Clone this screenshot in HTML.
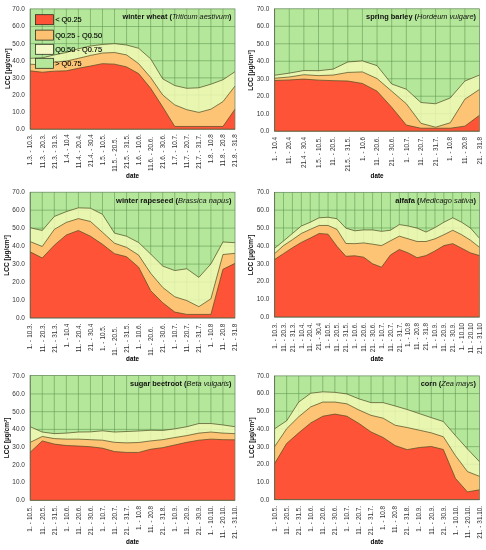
<!DOCTYPE html>
<html><head><meta charset="utf-8"><title>LCC quantiles by crop</title>
<style>html,body{margin:0;padding:0;background:#fff}body{width:486px;height:550px;overflow:hidden}svg{display:block}</style>
</head><body>
<svg width="486" height="550" viewBox="0 0 486 550" font-family='"Liberation Sans", sans-serif'>
<rect width="486" height="550" fill="#fff"/>
<g>
<rect x="30.2" y="8.9" width="204.8" height="120.3" fill="#b5e79a"/>
<path d="M42.25 8.9V129.2M54.29 8.9V129.2M66.34 8.9V129.2M78.39 8.9V129.2M90.44 8.9V129.2M102.48 8.9V129.2M114.53 8.9V129.2M126.58 8.9V129.2M138.62 8.9V129.2M150.67 8.9V129.2M162.72 8.9V129.2M174.76 8.9V129.2M186.81 8.9V129.2M198.86 8.9V129.2M210.91 8.9V129.2M222.95 8.9V129.2M30.2 112.09H235M30.2 94.97H235M30.2 77.86H235M30.2 60.74H235M30.2 43.63H235M30.2 26.51H235" stroke="#5c954e" stroke-width="0.55" fill="none"/>
<polygon points="30.2,129.2 30.2,58.35 42.25,57.83 54.29,54.92 66.34,52.53 78.39,48.76 90.44,46.02 102.48,44.48 114.53,43.63 126.58,45 138.62,48.25 150.67,58.86 162.72,78.88 174.76,85.56 186.81,88.3 198.86,87.78 210.91,84.19 222.95,79.74 235,71.7 235,129.2" fill="#f3f9b5" fill-opacity="0.82"/>
<polyline points="30.2,58.35 42.25,57.83 54.29,54.92 66.34,52.53 78.39,48.76 90.44,46.02 102.48,44.48 114.53,43.63 126.58,45 138.62,48.25 150.67,58.86 162.72,78.88 174.76,85.56 186.81,88.3 198.86,87.78 210.91,84.19 222.95,79.74 235,71.7" fill="none" stroke="#4c4a22" stroke-width="0.7" stroke-linejoin="round"/>
<polygon points="30.2,129.2 30.2,64.17 42.25,65.02 54.29,62.11 66.34,61.09 78.39,58.35 90.44,55.44 102.48,53.04 114.53,52.53 126.58,54.92 138.62,63.65 150.67,77.51 162.72,94.97 174.76,104.9 186.81,109.69 198.86,112.43 210.91,109.18 222.95,101.65 235,86.07 235,129.2" fill="#fdc271" fill-opacity="0.96"/>
<polyline points="30.2,64.17 42.25,65.02 54.29,62.11 66.34,61.09 78.39,58.35 90.44,55.44 102.48,53.04 114.53,52.53 126.58,54.92 138.62,63.65 150.67,77.51 162.72,94.97 174.76,104.9 186.81,109.69 198.86,112.43 210.91,109.18 222.95,101.65 235,86.07" fill="none" stroke="#4c4a22" stroke-width="0.7" stroke-linejoin="round"/>
<polygon points="30.2,129.2 30.2,70.84 42.25,72.21 54.29,71.18 66.34,70.84 78.39,68.27 90.44,66.05 102.48,63.65 114.53,64.17 126.58,66.9 138.62,73.58 150.67,88.3 162.72,106.95 174.76,126.46 186.81,126.46 198.86,126.46 210.91,126.46 222.95,126.46 235,109.18 235,129.2" fill="#ff5337" fill-opacity="1"/>
<polyline points="30.2,70.84 42.25,72.21 54.29,71.18 66.34,70.84 78.39,68.27 90.44,66.05 102.48,63.65 114.53,64.17 126.58,66.9 138.62,73.58 150.67,88.3 162.72,106.95 174.76,126.46 186.81,126.46 198.86,126.46 210.91,126.46 222.95,126.46 235,109.18" fill="none" stroke="#4c4a22" stroke-width="0.7" stroke-linejoin="round"/>
<rect x="30.2" y="8.9" width="204.8" height="120.3" fill="none" stroke="#5f8458" stroke-width="0.7"/>
<path d="M30.2 8.9V129.2H235" stroke="#3a3a30" stroke-width="0.45" fill="none"/>
<text x="24.9" y="131.1" font-size="6.45" text-anchor="end" fill="#333">0.0</text>
<text x="24.9" y="113.99" font-size="6.45" text-anchor="end" fill="#333">10.0</text>
<text x="24.9" y="96.87" font-size="6.45" text-anchor="end" fill="#333">20.0</text>
<text x="24.9" y="79.76" font-size="6.45" text-anchor="end" fill="#333">30.0</text>
<text x="24.9" y="62.64" font-size="6.45" text-anchor="end" fill="#333">40.0</text>
<text x="24.9" y="45.53" font-size="6.45" text-anchor="end" fill="#333">50.0</text>
<text x="24.9" y="28.41" font-size="6.45" text-anchor="end" fill="#333">60.0</text>
<text x="24.9" y="11.3" font-size="6.45" text-anchor="end" fill="#333">70.0</text>
<text transform="translate(9.5 68.6) rotate(-90)" font-size="6.5" font-weight="bold" text-anchor="middle" fill="#111">LCC [µg/cm<tspan font-size="4" dy="-2">2</tspan><tspan dy="2">]</tspan></text>
<text transform="translate(32.45 134.2) rotate(-90)" font-size="6.35" word-spacing="0.3" text-anchor="end" fill="#333">1.3. - 10.3.</text>
<text transform="translate(44.5 134.2) rotate(-90)" font-size="6.35" word-spacing="0.3" text-anchor="end" fill="#333">11.3. - 20.3.</text>
<text transform="translate(56.54 134.2) rotate(-90)" font-size="6.35" word-spacing="0.3" text-anchor="end" fill="#333">21.3. - 31.3.</text>
<text transform="translate(68.59 134.2) rotate(-90)" font-size="6.35" word-spacing="0.3" text-anchor="end" fill="#333">1.4. - 10.4</text>
<text transform="translate(80.64 134.2) rotate(-90)" font-size="6.35" word-spacing="0.3" text-anchor="end" fill="#333">11.4. - 20.4.</text>
<text transform="translate(92.69 134.2) rotate(-90)" font-size="6.35" word-spacing="0.3" text-anchor="end" fill="#333">21.4. - 30.4</text>
<text transform="translate(104.73 134.2) rotate(-90)" font-size="6.35" word-spacing="0.3" text-anchor="end" fill="#333">1.5. - 10.5.</text>
<text transform="translate(116.78 137.7) rotate(-90)" font-size="6.35" word-spacing="0.3" text-anchor="end" fill="#333">11.5. - 20.5.</text>
<text transform="translate(128.83 134.2) rotate(-90)" font-size="6.35" word-spacing="0.3" text-anchor="end" fill="#333">21.5. - 31.5.</text>
<text transform="translate(140.87 134.2) rotate(-90)" font-size="6.35" word-spacing="0.3" text-anchor="end" fill="#333">1.6. - 10.6.</text>
<text transform="translate(152.92 136.9) rotate(-90)" font-size="6.35" word-spacing="0.3" text-anchor="end" fill="#333">11.6. - 20.6.</text>
<text transform="translate(164.97 134.2) rotate(-90)" font-size="6.35" word-spacing="0.3" text-anchor="end" fill="#333">21.6. - 30.6.</text>
<text transform="translate(177.01 134.2) rotate(-90)" font-size="6.35" word-spacing="0.3" text-anchor="end" fill="#333">1.7. - 10.7.</text>
<text transform="translate(189.06 134.2) rotate(-90)" font-size="6.35" word-spacing="0.3" text-anchor="end" fill="#333">11.7. - 20.7.</text>
<text transform="translate(201.11 134.2) rotate(-90)" font-size="6.35" word-spacing="0.3" text-anchor="end" fill="#333">21.7. - 31.7.</text>
<text transform="translate(213.16 134.2) rotate(-90)" font-size="6.35" word-spacing="0.3" text-anchor="end" fill="#333">1.8. - 10.8</text>
<text transform="translate(225.2 134.2) rotate(-90)" font-size="6.35" word-spacing="0.3" text-anchor="end" fill="#333">11.8. - 20.8</text>
<text transform="translate(237.25 134.2) rotate(-90)" font-size="6.35" word-spacing="0.3" text-anchor="end" fill="#333">21.8. - 31.8</text>
<text x="132.6" y="177.5" font-size="6.3" font-weight="bold" text-anchor="middle" fill="#000">date</text>
<text x="231.5" y="19" font-size="7.36" text-anchor="end" fill="#111"><tspan font-weight="bold" font-size="7.41">winter wheat (</tspan><tspan font-style="italic">Triticum aestivum</tspan><tspan font-weight="bold">)</tspan></text>
<rect x="35.4" y="14.7" width="18" height="10" fill="#ff5337" stroke="#26261a" stroke-width="0.75"/>
<text x="55.2" y="22.35" font-size="7.4" fill="#000" stroke="#000" stroke-width="0.12">&lt; Q0.25</text>
<rect x="35.4" y="30.1" width="18" height="10" fill="#fdc271" stroke="#26261a" stroke-width="0.75"/>
<text x="55.2" y="37.75" font-size="7.4" fill="#000" stroke="#000" stroke-width="0.12">Q0.25 - Q0.50</text>
<rect x="35.4" y="44.3" width="18" height="10" fill="#f4f7c6" stroke="#26261a" stroke-width="0.75"/>
<text x="55.2" y="51.949999999999996" font-size="7.4" fill="#000" stroke="#000" stroke-width="0.12">Q0.50 - Q0.75</text>
<rect x="35.4" y="58.3" width="18" height="10" fill="#b5e79a" stroke="#26261a" stroke-width="0.75"/>
<text x="55.2" y="65.95" font-size="7.4" fill="#000" stroke="#000" stroke-width="0.12">&gt; Q0.75</text>
</g>
<g>
<rect x="274.6" y="8.8" width="204.9" height="122.4" fill="#b5e79a"/>
<path d="M289.24 8.8V131.2M303.87 8.8V131.2M318.51 8.8V131.2M333.14 8.8V131.2M347.78 8.8V131.2M362.41 8.8V131.2M377.05 8.8V131.2M391.69 8.8V131.2M406.32 8.8V131.2M420.96 8.8V131.2M435.59 8.8V131.2M450.23 8.8V131.2M464.86 8.8V131.2M274.6 113.71H479.5M274.6 96.23H479.5M274.6 78.74H479.5M274.6 61.26H479.5M274.6 43.77H479.5M274.6 26.29H479.5" stroke="#5c954e" stroke-width="0.55" fill="none"/>
<polygon points="274.6,131.2 274.6,75.25 289.24,73.15 303.87,70.52 318.51,70.7 333.14,69.13 347.78,61.96 362.41,60.91 377.05,65.63 391.69,83.99 406.32,89.23 420.96,102.52 435.59,103.75 450.23,97.98 464.86,81.02 479.5,75.07 479.5,131.2" fill="#f3f9b5" fill-opacity="0.82"/>
<polyline points="274.6,75.25 289.24,73.15 303.87,70.52 318.51,70.7 333.14,69.13 347.78,61.96 362.41,60.91 377.05,65.63 391.69,83.99 406.32,89.23 420.96,102.52 435.59,103.75 450.23,97.98 464.86,81.02 479.5,75.07" fill="none" stroke="#4c4a22" stroke-width="0.7" stroke-linejoin="round"/>
<polygon points="274.6,131.2 274.6,78.22 289.24,76.99 303.87,74.72 318.51,75.6 333.14,75.07 347.78,72.45 362.41,71.92 377.05,78.57 391.69,91.16 406.32,103.75 420.96,123.33 435.59,127.18 450.23,122.81 464.86,99.2 479.5,89.41 479.5,131.2" fill="#fdc271" fill-opacity="0.96"/>
<polyline points="274.6,78.22 289.24,76.99 303.87,74.72 318.51,75.6 333.14,75.07 347.78,72.45 362.41,71.92 377.05,78.57 391.69,91.16 406.32,103.75 420.96,123.33 435.59,127.18 450.23,122.81 464.86,99.2 479.5,89.41" fill="none" stroke="#4c4a22" stroke-width="0.7" stroke-linejoin="round"/>
<polygon points="274.6,131.2 274.6,80.49 289.24,79.97 303.87,79.09 318.51,80.14 333.14,80.67 347.78,81.02 362.41,83.46 377.05,91.16 391.69,107.24 406.32,125.08 420.96,128.23 435.59,128.23 450.23,128.23 464.86,126.13 479.5,115.29 479.5,131.2" fill="#ff5337" fill-opacity="1"/>
<polyline points="274.6,80.49 289.24,79.97 303.87,79.09 318.51,80.14 333.14,80.67 347.78,81.02 362.41,83.46 377.05,91.16 391.69,107.24 406.32,125.08 420.96,128.23 435.59,128.23 450.23,128.23 464.86,126.13 479.5,115.29" fill="none" stroke="#4c4a22" stroke-width="0.7" stroke-linejoin="round"/>
<rect x="274.6" y="8.8" width="204.9" height="122.4" fill="none" stroke="#5f8458" stroke-width="0.7"/>
<path d="M274.6 8.8V131.2H479.5" stroke="#3a3a30" stroke-width="0.45" fill="none"/>
<text x="269.3" y="133.1" font-size="6.45" text-anchor="end" fill="#333">0.0</text>
<text x="269.3" y="115.61" font-size="6.45" text-anchor="end" fill="#333">10.0</text>
<text x="269.3" y="98.13" font-size="6.45" text-anchor="end" fill="#333">20.0</text>
<text x="269.3" y="80.64" font-size="6.45" text-anchor="end" fill="#333">30.0</text>
<text x="269.3" y="63.16" font-size="6.45" text-anchor="end" fill="#333">40.0</text>
<text x="269.3" y="45.67" font-size="6.45" text-anchor="end" fill="#333">50.0</text>
<text x="269.3" y="28.19" font-size="6.45" text-anchor="end" fill="#333">60.0</text>
<text x="269.3" y="10.7" font-size="6.45" text-anchor="end" fill="#333">70.0</text>
<text transform="translate(253.4 70.3) rotate(-90)" font-size="6.5" font-weight="bold" text-anchor="middle" fill="#111">LCC [µg/cm<tspan font-size="4" dy="-2">2</tspan><tspan dy="2">]</tspan></text>
<text transform="translate(276.85 137) rotate(-90)" font-size="6.35" word-spacing="0.3" text-anchor="end" fill="#333">1. - 10.4</text>
<text transform="translate(291.49 137) rotate(-90)" font-size="6.35" word-spacing="0.3" text-anchor="end" fill="#333">11. - 20.4</text>
<text transform="translate(306.12 137) rotate(-90)" font-size="6.35" word-spacing="0.3" text-anchor="end" fill="#333">21.4 - 30.4</text>
<text transform="translate(320.76 137) rotate(-90)" font-size="6.35" word-spacing="0.3" text-anchor="end" fill="#333">1.5. - 10.5.</text>
<text transform="translate(335.39 137) rotate(-90)" font-size="6.35" word-spacing="0.3" text-anchor="end" fill="#333">11. - 20.5.</text>
<text transform="translate(350.03 137) rotate(-90)" font-size="6.35" word-spacing="0.3" text-anchor="end" fill="#333">21.5. - 31.5.</text>
<text transform="translate(364.66 137) rotate(-90)" font-size="6.35" word-spacing="0.3" text-anchor="end" fill="#333">1. - 10.6</text>
<text transform="translate(379.3 137) rotate(-90)" font-size="6.35" word-spacing="0.3" text-anchor="end" fill="#333">11. - 20.6.</text>
<text transform="translate(393.94 137) rotate(-90)" font-size="6.35" word-spacing="0.3" text-anchor="end" fill="#333">21. - 30.6.</text>
<text transform="translate(408.57 137) rotate(-90)" font-size="6.35" word-spacing="0.3" text-anchor="end" fill="#333">1. - 10.7.</text>
<text transform="translate(423.21 137) rotate(-90)" font-size="6.35" word-spacing="0.3" text-anchor="end" fill="#333">11. - 20.7.</text>
<text transform="translate(437.84 137) rotate(-90)" font-size="6.35" word-spacing="0.3" text-anchor="end" fill="#333">21. - 31.7.</text>
<text transform="translate(452.48 137) rotate(-90)" font-size="6.35" word-spacing="0.3" text-anchor="end" fill="#333">1. - 10.8</text>
<text transform="translate(467.11 137) rotate(-90)" font-size="6.35" word-spacing="0.3" text-anchor="end" fill="#333">11. - 20.8</text>
<text transform="translate(481.75 137) rotate(-90)" font-size="6.35" word-spacing="0.3" text-anchor="end" fill="#333">21. - 31.8</text>
<text x="377.05" y="177.5" font-size="6.3" font-weight="bold" text-anchor="middle" fill="#000">date</text>
<text x="476" y="19.1" font-size="7.36" text-anchor="end" fill="#111"><tspan font-weight="bold" font-size="7.41">spring barley (</tspan><tspan font-style="italic">Hordeum vulgare</tspan><tspan font-weight="bold">)</tspan></text>
</g>
<g>
<rect x="30.2" y="192.2" width="204.8" height="125.8" fill="#b5e79a"/>
<path d="M42.25 192.2V318M54.29 192.2V318M66.34 192.2V318M78.39 192.2V318M90.44 192.2V318M102.48 192.2V318M114.53 192.2V318M126.58 192.2V318M138.62 192.2V318M150.67 192.2V318M162.72 192.2V318M174.76 192.2V318M186.81 192.2V318M198.86 192.2V318M210.91 192.2V318M222.95 192.2V318M30.2 300.03H235M30.2 282.06H235M30.2 264.09H235M30.2 246.11H235M30.2 228.14H235M30.2 210.17H235" stroke="#5c954e" stroke-width="0.55" fill="none"/>
<polygon points="30.2,318 30.2,227.78 42.25,230.48 54.29,216.46 66.34,211.61 78.39,207.84 90.44,208.19 102.48,214.3 114.53,233.17 126.58,236.23 138.62,242.52 150.67,254.02 162.72,266.06 174.76,270.56 186.81,268.76 198.86,277.38 210.91,263.91 222.95,241.98 235,242.7 235,318" fill="#f3f9b5" fill-opacity="0.82"/>
<polyline points="30.2,227.78 42.25,230.48 54.29,216.46 66.34,211.61 78.39,207.84 90.44,208.19 102.48,214.3 114.53,233.17 126.58,236.23 138.62,242.52 150.67,254.02 162.72,266.06 174.76,270.56 186.81,268.76 198.86,277.38 210.91,263.91 222.95,241.98 235,242.7" fill="none" stroke="#4c4a22" stroke-width="0.7" stroke-linejoin="round"/>
<polygon points="30.2,318 30.2,241.62 42.25,246.47 54.29,229.4 66.34,222.39 78.39,218.62 90.44,221.49 102.48,232.28 114.53,243.24 126.58,247.37 138.62,255.1 150.67,273.25 162.72,287.45 174.76,296.79 186.81,300.57 198.86,306.68 210.91,298.77 222.95,254.56 235,253.3 235,318" fill="#fdc271" fill-opacity="0.96"/>
<polyline points="30.2,241.62 42.25,246.47 54.29,229.4 66.34,222.39 78.39,218.62 90.44,221.49 102.48,232.28 114.53,243.24 126.58,247.37 138.62,255.1 150.67,273.25 162.72,287.45 174.76,296.79 186.81,300.57 198.86,306.68 210.91,298.77 222.95,254.56 235,253.3" fill="none" stroke="#4c4a22" stroke-width="0.7" stroke-linejoin="round"/>
<polygon points="30.2,318 30.2,251.87 42.25,257.98 54.29,245.22 66.34,234.97 78.39,230.48 90.44,236.23 102.48,244.32 114.53,253.66 126.58,256.72 138.62,267.14 150.67,290.68 162.72,302.72 174.76,312.07 186.81,314.41 198.86,314.41 210.91,314.41 222.95,269.3 235,263.37 235,318" fill="#ff5337" fill-opacity="1"/>
<polyline points="30.2,251.87 42.25,257.98 54.29,245.22 66.34,234.97 78.39,230.48 90.44,236.23 102.48,244.32 114.53,253.66 126.58,256.72 138.62,267.14 150.67,290.68 162.72,302.72 174.76,312.07 186.81,314.41 198.86,314.41 210.91,314.41 222.95,269.3 235,263.37" fill="none" stroke="#4c4a22" stroke-width="0.7" stroke-linejoin="round"/>
<rect x="30.2" y="192.2" width="204.8" height="125.8" fill="none" stroke="#5f8458" stroke-width="0.7"/>
<path d="M30.2 192.2V318H235" stroke="#3a3a30" stroke-width="0.45" fill="none"/>
<text x="24.9" y="319.9" font-size="6.45" text-anchor="end" fill="#333">0.0</text>
<text x="24.9" y="301.93" font-size="6.45" text-anchor="end" fill="#333">10.0</text>
<text x="24.9" y="283.96" font-size="6.45" text-anchor="end" fill="#333">20.0</text>
<text x="24.9" y="265.99" font-size="6.45" text-anchor="end" fill="#333">30.0</text>
<text x="24.9" y="248.01" font-size="6.45" text-anchor="end" fill="#333">40.0</text>
<text x="24.9" y="230.04" font-size="6.45" text-anchor="end" fill="#333">50.0</text>
<text x="24.9" y="212.07" font-size="6.45" text-anchor="end" fill="#333">60.0</text>
<text x="24.9" y="194.1" font-size="6.45" text-anchor="end" fill="#333">70.0</text>
<text transform="translate(8.6 255.3) rotate(-90)" font-size="6.5" font-weight="bold" text-anchor="middle" fill="#111">LCC [µg/cm<tspan font-size="4" dy="-2">2</tspan><tspan dy="2">]</tspan></text>
<text transform="translate(32.45 323.6) rotate(-90)" font-size="6.35" word-spacing="0.3" text-anchor="end" fill="#333">1. - 10.3.</text>
<text transform="translate(44.5 323.6) rotate(-90)" font-size="6.35" word-spacing="0.3" text-anchor="end" fill="#333">11. - 20.3.</text>
<text transform="translate(56.54 323.6) rotate(-90)" font-size="6.35" word-spacing="0.3" text-anchor="end" fill="#333">21. - 31.3.</text>
<text transform="translate(68.59 323.6) rotate(-90)" font-size="6.35" word-spacing="0.3" text-anchor="end" fill="#333">1. - 10.4</text>
<text transform="translate(80.64 323.6) rotate(-90)" font-size="6.35" word-spacing="0.3" text-anchor="end" fill="#333">11. - 20.4.</text>
<text transform="translate(92.69 323.6) rotate(-90)" font-size="6.35" word-spacing="0.3" text-anchor="end" fill="#333">21. - 30.4</text>
<text transform="translate(104.73 325.4) rotate(-90)" font-size="6.35" word-spacing="0.3" text-anchor="end" fill="#333">1. - 10.5.</text>
<text transform="translate(116.78 327) rotate(-90)" font-size="6.35" word-spacing="0.3" text-anchor="end" fill="#333">11. - 20.5.</text>
<text transform="translate(128.83 323.6) rotate(-90)" font-size="6.35" word-spacing="0.3" text-anchor="end" fill="#333">21. - 31.5.</text>
<text transform="translate(140.87 323.6) rotate(-90)" font-size="6.35" word-spacing="0.3" text-anchor="end" fill="#333">1. - 10.6.</text>
<text transform="translate(152.92 327) rotate(-90)" font-size="6.35" word-spacing="0.3" text-anchor="end" fill="#333">11. - 20.6.</text>
<text transform="translate(164.97 323.6) rotate(-90)" font-size="6.35" word-spacing="0.3" text-anchor="end" fill="#333">21. - 30.6.</text>
<text transform="translate(177.01 323.6) rotate(-90)" font-size="6.35" word-spacing="0.3" text-anchor="end" fill="#333">1. - 10.7.</text>
<text transform="translate(189.06 323.6) rotate(-90)" font-size="6.35" word-spacing="0.3" text-anchor="end" fill="#333">11. - 20.7.</text>
<text transform="translate(201.11 323.6) rotate(-90)" font-size="6.35" word-spacing="0.3" text-anchor="end" fill="#333">21. - 31.7.</text>
<text transform="translate(213.16 323.6) rotate(-90)" font-size="6.35" word-spacing="0.3" text-anchor="end" fill="#333">1. - 10.8</text>
<text transform="translate(225.2 323.6) rotate(-90)" font-size="6.35" word-spacing="0.3" text-anchor="end" fill="#333">11. - 20.8</text>
<text transform="translate(237.25 323.6) rotate(-90)" font-size="6.35" word-spacing="0.3" text-anchor="end" fill="#333">21. - 31.8</text>
<text x="132.6" y="361.4" font-size="6.3" font-weight="bold" text-anchor="middle" fill="#000">date</text>
<text x="231.5" y="203.4" font-size="7.47" text-anchor="end" fill="#111"><tspan font-weight="bold" font-size="7.52">winter rapeseed (</tspan><tspan font-style="italic">Brassica napus</tspan><tspan font-weight="bold">)</tspan></text>
</g>
<g>
<rect x="274.6" y="192.3" width="204.9" height="124.8" fill="#b5e79a"/>
<path d="M283.51 192.3V317.1M292.42 192.3V317.1M301.33 192.3V317.1M310.23 192.3V317.1M319.14 192.3V317.1M328.05 192.3V317.1M336.96 192.3V317.1M345.87 192.3V317.1M354.78 192.3V317.1M363.69 192.3V317.1M372.6 192.3V317.1M381.5 192.3V317.1M390.41 192.3V317.1M399.32 192.3V317.1M408.23 192.3V317.1M417.14 192.3V317.1M426.05 192.3V317.1M434.96 192.3V317.1M443.87 192.3V317.1M452.77 192.3V317.1M461.68 192.3V317.1M470.59 192.3V317.1M274.6 299.27H479.5M274.6 281.44H479.5M274.6 263.61H479.5M274.6 245.79H479.5M274.6 227.96H479.5M274.6 210.13H479.5" stroke="#5c954e" stroke-width="0.55" fill="none"/>
<polygon points="274.6,317.1 274.6,248.28 283.51,240.97 292.42,233.48 301.33,226 310.23,222.25 319.14,217.79 328.05,217.26 336.96,218.69 345.87,228.14 354.78,230.81 363.69,229.92 372.6,229.92 381.5,231.34 390.41,230.27 399.32,224.57 408.23,226 417.14,228.14 426.05,232.06 434.96,227.6 443.87,222.25 452.77,217.79 461.68,222.25 470.59,228.14 479.5,238.3 479.5,317.1" fill="#f3f9b5" fill-opacity="0.82"/>
<polyline points="274.6,248.28 283.51,240.97 292.42,233.48 301.33,226 310.23,222.25 319.14,217.79 328.05,217.26 336.96,218.69 345.87,228.14 354.78,230.81 363.69,229.92 372.6,229.92 381.5,231.34 390.41,230.27 399.32,224.57 408.23,226 417.14,228.14 426.05,232.06 434.96,227.6 443.87,222.25 452.77,217.79 461.68,222.25 470.59,228.14 479.5,238.3" fill="none" stroke="#4c4a22" stroke-width="0.7" stroke-linejoin="round"/>
<polygon points="274.6,317.1 274.6,253.63 283.51,245.61 292.42,239.72 301.33,233.48 310.23,229.38 319.14,225.46 328.05,225.46 336.96,229.38 345.87,243.47 354.78,243.65 363.69,242.93 372.6,244.18 381.5,245.61 390.41,240.79 399.32,236.16 408.23,238.83 417.14,241.51 426.05,241.51 434.96,238.83 443.87,234.73 452.77,230.27 461.68,234.73 470.59,240.26 479.5,247.39 479.5,317.1" fill="#fdc271" fill-opacity="0.96"/>
<polyline points="274.6,253.63 283.51,245.61 292.42,239.72 301.33,233.48 310.23,229.38 319.14,225.46 328.05,225.46 336.96,229.38 345.87,243.47 354.78,243.65 363.69,242.93 372.6,244.18 381.5,245.61 390.41,240.79 399.32,236.16 408.23,238.83 417.14,241.51 426.05,241.51 434.96,238.83 443.87,234.73 452.77,230.27 461.68,234.73 470.59,240.26 479.5,247.39" fill="none" stroke="#4c4a22" stroke-width="0.7" stroke-linejoin="round"/>
<polygon points="274.6,317.1 274.6,259.51 283.51,253.63 292.42,247.75 301.33,242.4 310.23,238.12 319.14,233.48 328.05,234.2 336.96,246.32 345.87,256.3 354.78,255.77 363.69,257.2 372.6,263.79 381.5,267.18 390.41,255.06 399.32,249.53 408.23,252.92 417.14,257.73 426.05,255.59 434.96,250.96 443.87,245.61 452.77,243.65 461.68,248.28 470.59,252.92 479.5,255.59 479.5,317.1" fill="#ff5337" fill-opacity="1"/>
<polyline points="274.6,259.51 283.51,253.63 292.42,247.75 301.33,242.4 310.23,238.12 319.14,233.48 328.05,234.2 336.96,246.32 345.87,256.3 354.78,255.77 363.69,257.2 372.6,263.79 381.5,267.18 390.41,255.06 399.32,249.53 408.23,252.92 417.14,257.73 426.05,255.59 434.96,250.96 443.87,245.61 452.77,243.65 461.68,248.28 470.59,252.92 479.5,255.59" fill="none" stroke="#4c4a22" stroke-width="0.7" stroke-linejoin="round"/>
<rect x="274.6" y="192.3" width="204.9" height="124.8" fill="none" stroke="#5f8458" stroke-width="0.7"/>
<path d="M274.6 192.3V317.1H479.5" stroke="#3a3a30" stroke-width="0.45" fill="none"/>
<text x="269.3" y="319" font-size="6.45" text-anchor="end" fill="#333">0.0</text>
<text x="269.3" y="301.17" font-size="6.45" text-anchor="end" fill="#333">10.0</text>
<text x="269.3" y="283.34" font-size="6.45" text-anchor="end" fill="#333">20.0</text>
<text x="269.3" y="265.51" font-size="6.45" text-anchor="end" fill="#333">30.0</text>
<text x="269.3" y="247.69" font-size="6.45" text-anchor="end" fill="#333">40.0</text>
<text x="269.3" y="229.86" font-size="6.45" text-anchor="end" fill="#333">50.0</text>
<text x="269.3" y="212.03" font-size="6.45" text-anchor="end" fill="#333">60.0</text>
<text x="269.3" y="194.2" font-size="6.45" text-anchor="end" fill="#333">70.0</text>
<text transform="translate(253 254.8) rotate(-90)" font-size="6.5" font-weight="bold" text-anchor="middle" fill="#111">LCC [µg/cm<tspan font-size="4" dy="-2">2</tspan><tspan dy="2">]</tspan></text>
<text transform="translate(276.85 323) rotate(-90)" font-size="6.35" word-spacing="0.3" text-anchor="end" fill="#333">1. - 10.3.</text>
<text transform="translate(285.76 323) rotate(-90)" font-size="6.35" word-spacing="0.3" text-anchor="end" fill="#333">11. - 20.3.</text>
<text transform="translate(294.67 323) rotate(-90)" font-size="6.35" word-spacing="0.3" text-anchor="end" fill="#333">21. - 31.3.</text>
<text transform="translate(303.58 323) rotate(-90)" font-size="6.35" word-spacing="0.3" text-anchor="end" fill="#333">1. - 10.4.</text>
<text transform="translate(312.48 323) rotate(-90)" font-size="6.35" word-spacing="0.3" text-anchor="end" fill="#333">11. - 20.4.</text>
<text transform="translate(321.39 323) rotate(-90)" font-size="6.35" word-spacing="0.3" text-anchor="end" fill="#333">21. - 30.4</text>
<text transform="translate(330.3 323) rotate(-90)" font-size="6.35" word-spacing="0.3" text-anchor="end" fill="#333">1. - 10.5.</text>
<text transform="translate(339.21 323) rotate(-90)" font-size="6.35" word-spacing="0.3" text-anchor="end" fill="#333">11. - 20.5.</text>
<text transform="translate(348.12 323) rotate(-90)" font-size="6.35" word-spacing="0.3" text-anchor="end" fill="#333">21. - 31.5.</text>
<text transform="translate(357.03 323) rotate(-90)" font-size="6.35" word-spacing="0.3" text-anchor="end" fill="#333">1. - 10.6.</text>
<text transform="translate(365.94 323) rotate(-90)" font-size="6.35" word-spacing="0.3" text-anchor="end" fill="#333">11. - 20.6.</text>
<text transform="translate(374.85 323) rotate(-90)" font-size="6.35" word-spacing="0.3" text-anchor="end" fill="#333">21. - 30.6.</text>
<text transform="translate(383.75 323) rotate(-90)" font-size="6.35" word-spacing="0.3" text-anchor="end" fill="#333">1. - 10.7.</text>
<text transform="translate(392.66 323) rotate(-90)" font-size="6.35" word-spacing="0.3" text-anchor="end" fill="#333">11. - 20.7.</text>
<text transform="translate(401.57 323) rotate(-90)" font-size="6.35" word-spacing="0.3" text-anchor="end" fill="#333">21. - 31.7.</text>
<text transform="translate(410.48 323) rotate(-90)" font-size="6.35" word-spacing="0.3" text-anchor="end" fill="#333">1. - 10.8</text>
<text transform="translate(419.39 323) rotate(-90)" font-size="6.35" word-spacing="0.3" text-anchor="end" fill="#333">11. - 20.8</text>
<text transform="translate(428.3 323) rotate(-90)" font-size="6.35" word-spacing="0.3" text-anchor="end" fill="#333">21. - 31.8</text>
<text transform="translate(437.21 323) rotate(-90)" font-size="6.35" word-spacing="0.3" text-anchor="end" fill="#333">1. - 10.9.</text>
<text transform="translate(446.12 323) rotate(-90)" font-size="6.35" word-spacing="0.3" text-anchor="end" fill="#333">11. - 20.9.</text>
<text transform="translate(455.02 323) rotate(-90)" font-size="6.35" word-spacing="0.3" text-anchor="end" fill="#333">21. - 30.9.</text>
<text transform="translate(463.93 323) rotate(-90)" font-size="6.35" word-spacing="0.3" text-anchor="end" fill="#333">1. - 10.10</text>
<text transform="translate(472.84 323) rotate(-90)" font-size="6.35" word-spacing="0.3" text-anchor="end" fill="#333">11. - 20.10</text>
<text transform="translate(481.75 323) rotate(-90)" font-size="6.35" word-spacing="0.3" text-anchor="end" fill="#333">21. - 31.10</text>
<text x="377.05" y="361.4" font-size="6.3" font-weight="bold" text-anchor="middle" fill="#000">date</text>
<text x="476" y="203.2" font-size="7.47" text-anchor="end" fill="#111"><tspan font-weight="bold" font-size="7.52">alfafa (</tspan><tspan font-style="italic">Medicago sativa</tspan><tspan font-weight="bold">)</tspan></text>
</g>
<g>
<rect x="30.2" y="375.4" width="204.8" height="124.9" fill="#b5e79a"/>
<path d="M42.25 375.4V500.3M54.29 375.4V500.3M66.34 375.4V500.3M78.39 375.4V500.3M90.44 375.4V500.3M102.48 375.4V500.3M114.53 375.4V500.3M126.58 375.4V500.3M138.62 375.4V500.3M150.67 375.4V500.3M162.72 375.4V500.3M174.76 375.4V500.3M186.81 375.4V500.3M198.86 375.4V500.3M210.91 375.4V500.3M222.95 375.4V500.3M30.2 482.57H235M30.2 464.84H235M30.2 447.11H235M30.2 429.39H235M30.2 411.66H235M30.2 393.93H235" stroke="#5c954e" stroke-width="0.55" fill="none"/>
<polygon points="30.2,500.3 30.2,426.73 42.25,432.04 54.29,433.64 66.34,433.11 78.39,432.04 90.44,431.87 102.48,430.8 114.53,432.04 126.58,431.51 138.62,430.98 150.67,430.27 162.72,430.45 174.76,428.85 186.81,426.73 198.86,423.54 210.91,423.54 222.95,424.95 235,426.73 235,500.3" fill="#f3f9b5" fill-opacity="0.82"/>
<polyline points="30.2,426.73 42.25,432.04 54.29,433.64 66.34,433.11 78.39,432.04 90.44,431.87 102.48,430.8 114.53,432.04 126.58,431.51 138.62,430.98 150.67,430.27 162.72,430.45 174.76,428.85 186.81,426.73 198.86,423.54 210.91,423.54 222.95,424.95 235,426.73" fill="none" stroke="#4c4a22" stroke-width="0.7" stroke-linejoin="round"/>
<polygon points="30.2,500.3 30.2,442.33 42.25,436.48 54.29,438.6 66.34,439.14 78.39,439.14 90.44,439.67 102.48,440.2 114.53,442.33 126.58,442.86 138.62,442.5 150.67,440.91 162.72,439.67 174.76,437.54 186.81,435.59 198.86,433.11 210.91,432.04 222.95,433.11 235,433.64 235,500.3" fill="#fdc271" fill-opacity="0.96"/>
<polyline points="30.2,442.33 42.25,436.48 54.29,438.6 66.34,439.14 78.39,439.14 90.44,439.67 102.48,440.2 114.53,442.33 126.58,442.86 138.62,442.5 150.67,440.91 162.72,439.67 174.76,437.54 186.81,435.59 198.86,433.11 210.91,432.04 222.95,433.11 235,433.64" fill="none" stroke="#4c4a22" stroke-width="0.7" stroke-linejoin="round"/>
<polygon points="30.2,500.3 30.2,452.26 42.25,440.91 54.29,444.1 66.34,445.52 78.39,446.05 90.44,446.76 102.48,448.18 114.53,451.55 126.58,452.43 138.62,452.43 150.67,449.24 162.72,447.65 174.76,444.99 186.81,442.33 198.86,440.2 210.91,439.14 222.95,439.67 235,439.85 235,500.3" fill="#ff5337" fill-opacity="1"/>
<polyline points="30.2,452.26 42.25,440.91 54.29,444.1 66.34,445.52 78.39,446.05 90.44,446.76 102.48,448.18 114.53,451.55 126.58,452.43 138.62,452.43 150.67,449.24 162.72,447.65 174.76,444.99 186.81,442.33 198.86,440.2 210.91,439.14 222.95,439.67 235,439.85" fill="none" stroke="#4c4a22" stroke-width="0.7" stroke-linejoin="round"/>
<rect x="30.2" y="375.4" width="204.8" height="124.9" fill="none" stroke="#5f8458" stroke-width="0.7"/>
<path d="M30.2 375.4V500.3H235" stroke="#3a3a30" stroke-width="0.45" fill="none"/>
<text x="24.9" y="502.2" font-size="6.45" text-anchor="end" fill="#333">0.0</text>
<text x="24.9" y="484.47" font-size="6.45" text-anchor="end" fill="#333">10.0</text>
<text x="24.9" y="466.74" font-size="6.45" text-anchor="end" fill="#333">20.0</text>
<text x="24.9" y="449.01" font-size="6.45" text-anchor="end" fill="#333">30.0</text>
<text x="24.9" y="431.29" font-size="6.45" text-anchor="end" fill="#333">40.0</text>
<text x="24.9" y="413.56" font-size="6.45" text-anchor="end" fill="#333">50.0</text>
<text x="24.9" y="395.83" font-size="6.45" text-anchor="end" fill="#333">60.0</text>
<text x="24.9" y="378.1" font-size="6.45" text-anchor="end" fill="#333">70.0</text>
<text transform="translate(9.2 437.95) rotate(-90)" font-size="6.5" font-weight="bold" text-anchor="middle" fill="#111">LCC [µg/cm<tspan font-size="4" dy="-2">2</tspan><tspan dy="2">]</tspan></text>
<text transform="translate(32.45 506) rotate(-90)" font-size="6.35" word-spacing="0.3" text-anchor="end" fill="#333">1. - 10.5.</text>
<text transform="translate(44.5 506) rotate(-90)" font-size="6.35" word-spacing="0.3" text-anchor="end" fill="#333">11. - 20.5.</text>
<text transform="translate(56.54 506) rotate(-90)" font-size="6.35" word-spacing="0.3" text-anchor="end" fill="#333">21. - 31.5.</text>
<text transform="translate(68.59 506) rotate(-90)" font-size="6.35" word-spacing="0.3" text-anchor="end" fill="#333">1. - 10.6.</text>
<text transform="translate(80.64 506) rotate(-90)" font-size="6.35" word-spacing="0.3" text-anchor="end" fill="#333">11. - 20.6.</text>
<text transform="translate(92.69 506) rotate(-90)" font-size="6.35" word-spacing="0.3" text-anchor="end" fill="#333">21. - 30.6.</text>
<text transform="translate(104.73 506) rotate(-90)" font-size="6.35" word-spacing="0.3" text-anchor="end" fill="#333">1. - 10.7.</text>
<text transform="translate(116.78 506) rotate(-90)" font-size="6.35" word-spacing="0.3" text-anchor="end" fill="#333">11. - 20.7.</text>
<text transform="translate(128.83 506) rotate(-90)" font-size="6.35" word-spacing="0.3" text-anchor="end" fill="#333">21. - 31.7.</text>
<text transform="translate(140.87 506) rotate(-90)" font-size="6.35" word-spacing="0.3" text-anchor="end" fill="#333">1. - 10.8</text>
<text transform="translate(152.92 506) rotate(-90)" font-size="6.35" word-spacing="0.3" text-anchor="end" fill="#333">11. - 20.8</text>
<text transform="translate(164.97 506) rotate(-90)" font-size="6.35" word-spacing="0.3" text-anchor="end" fill="#333">21. - 31.8.</text>
<text transform="translate(177.01 506) rotate(-90)" font-size="6.35" word-spacing="0.3" text-anchor="end" fill="#333">1. - 10.9.</text>
<text transform="translate(189.06 506) rotate(-90)" font-size="6.35" word-spacing="0.3" text-anchor="end" fill="#333">11. - 20.9.</text>
<text transform="translate(201.11 506) rotate(-90)" font-size="6.35" word-spacing="0.3" text-anchor="end" fill="#333">21. - 30.9.</text>
<text transform="translate(213.16 506) rotate(-90)" font-size="6.35" word-spacing="0.3" text-anchor="end" fill="#333">1. - 10.10.</text>
<text transform="translate(225.2 506) rotate(-90)" font-size="6.35" word-spacing="0.3" text-anchor="end" fill="#333">11. - 20.10.</text>
<text transform="translate(237.25 506) rotate(-90)" font-size="6.35" word-spacing="0.3" text-anchor="end" fill="#333">21. - 31.10.</text>
<text x="132.6" y="544.4" font-size="6.3" font-weight="bold" text-anchor="middle" fill="#000">date</text>
<text x="231.5" y="386.2" font-size="7.36" text-anchor="end" fill="#111"><tspan font-weight="bold" font-size="7.41">sugar beetroot (</tspan><tspan font-style="italic">Beta vulgaris</tspan><tspan font-weight="bold">)</tspan></text>
</g>
<g>
<rect x="274.6" y="375.9" width="204.9" height="123.8" fill="#b5e79a"/>
<path d="M286.65 375.9V499.7M298.71 375.9V499.7M310.76 375.9V499.7M322.81 375.9V499.7M334.86 375.9V499.7M346.92 375.9V499.7M358.97 375.9V499.7M371.02 375.9V499.7M383.08 375.9V499.7M395.13 375.9V499.7M407.18 375.9V499.7M419.24 375.9V499.7M431.29 375.9V499.7M443.34 375.9V499.7M455.39 375.9V499.7M467.45 375.9V499.7M274.6 482.01H479.5M274.6 464.33H479.5M274.6 446.64H479.5M274.6 428.96H479.5M274.6 411.27H479.5M274.6 393.59H479.5" stroke="#5c954e" stroke-width="0.55" fill="none"/>
<polygon points="274.6,499.7 274.6,428.78 286.65,420.82 298.71,402.07 310.76,393.23 322.81,391.82 334.86,392.35 346.92,393.94 358.97,398.89 371.02,402.61 383.08,402.61 395.13,405.97 407.18,409.5 419.24,413.57 431.29,417.64 443.34,421.53 455.39,435.5 467.45,448.94 479.5,461.68 479.5,499.7" fill="#f3f9b5" fill-opacity="0.82"/>
<polyline points="274.6,428.78 286.65,420.82 298.71,402.07 310.76,393.23 322.81,391.82 334.86,392.35 346.92,393.94 358.97,398.89 371.02,402.61 383.08,402.61 395.13,405.97 407.18,409.5 419.24,413.57 431.29,417.64 443.34,421.53 455.39,435.5 467.45,448.94 479.5,461.68" fill="none" stroke="#4c4a22" stroke-width="0.7" stroke-linejoin="round"/>
<polygon points="274.6,499.7 274.6,446.64 286.65,428.78 298.71,416.75 310.76,406.85 322.81,402.07 334.86,402.07 346.92,403.84 358.97,410.03 371.02,415.34 383.08,418.17 395.13,425.24 407.18,427.54 419.24,430.2 431.29,432.85 443.34,436.74 455.39,455.49 467.45,471.58 479.5,476.35 479.5,499.7" fill="#fdc271" fill-opacity="0.96"/>
<polyline points="274.6,446.64 286.65,428.78 298.71,416.75 310.76,406.85 322.81,402.07 334.86,402.07 346.92,403.84 358.97,410.03 371.02,415.34 383.08,418.17 395.13,425.24 407.18,427.54 419.24,430.2 431.29,432.85 443.34,436.74 455.39,455.49 467.45,471.58 479.5,476.35" fill="none" stroke="#4c4a22" stroke-width="0.7" stroke-linejoin="round"/>
<polygon points="274.6,499.7 274.6,463.62 286.65,443.46 298.71,432.85 310.76,422.94 322.81,416.22 334.86,414.1 346.92,416.22 358.97,423.47 371.02,431.96 383.08,437.45 395.13,445.58 407.18,449.65 419.24,447.53 431.29,446.47 443.34,449.47 455.39,478.3 467.45,491.92 479.5,489.8 479.5,499.7" fill="#ff5337" fill-opacity="1"/>
<polyline points="274.6,463.62 286.65,443.46 298.71,432.85 310.76,422.94 322.81,416.22 334.86,414.1 346.92,416.22 358.97,423.47 371.02,431.96 383.08,437.45 395.13,445.58 407.18,449.65 419.24,447.53 431.29,446.47 443.34,449.47 455.39,478.3 467.45,491.92 479.5,489.8" fill="none" stroke="#4c4a22" stroke-width="0.7" stroke-linejoin="round"/>
<rect x="274.6" y="375.9" width="204.9" height="123.8" fill="none" stroke="#5f8458" stroke-width="0.7"/>
<path d="M274.6 375.9V499.7H479.5" stroke="#3a3a30" stroke-width="0.45" fill="none"/>
<text x="269.3" y="501.6" font-size="6.45" text-anchor="end" fill="#333">0.0</text>
<text x="269.3" y="483.91" font-size="6.45" text-anchor="end" fill="#333">10.0</text>
<text x="269.3" y="466.23" font-size="6.45" text-anchor="end" fill="#333">20.0</text>
<text x="269.3" y="448.54" font-size="6.45" text-anchor="end" fill="#333">30.0</text>
<text x="269.3" y="430.86" font-size="6.45" text-anchor="end" fill="#333">40.0</text>
<text x="269.3" y="413.17" font-size="6.45" text-anchor="end" fill="#333">50.0</text>
<text x="269.3" y="395.49" font-size="6.45" text-anchor="end" fill="#333">60.0</text>
<text x="269.3" y="377.8" font-size="6.45" text-anchor="end" fill="#333">70.0</text>
<text transform="translate(253.5 437.7) rotate(-90)" font-size="6.5" font-weight="bold" text-anchor="middle" fill="#111">LCC [µg/cm<tspan font-size="4" dy="-2">2</tspan><tspan dy="2">]</tspan></text>
<text transform="translate(276.85 506) rotate(-90)" font-size="6.35" word-spacing="0.3" text-anchor="end" fill="#333">1. - 10.5.</text>
<text transform="translate(288.9 506) rotate(-90)" font-size="6.35" word-spacing="0.3" text-anchor="end" fill="#333">11. - 20.5.</text>
<text transform="translate(300.96 506) rotate(-90)" font-size="6.35" word-spacing="0.3" text-anchor="end" fill="#333">21. - 31.5.</text>
<text transform="translate(313.01 506) rotate(-90)" font-size="6.35" word-spacing="0.3" text-anchor="end" fill="#333">1. - 10.6.</text>
<text transform="translate(325.06 506) rotate(-90)" font-size="6.35" word-spacing="0.3" text-anchor="end" fill="#333">11. - 20.6.</text>
<text transform="translate(337.11 506) rotate(-90)" font-size="6.35" word-spacing="0.3" text-anchor="end" fill="#333">21. - 30.6.</text>
<text transform="translate(349.17 506) rotate(-90)" font-size="6.35" word-spacing="0.3" text-anchor="end" fill="#333">1. - 10.7.</text>
<text transform="translate(361.22 506) rotate(-90)" font-size="6.35" word-spacing="0.3" text-anchor="end" fill="#333">11. - 20.7.</text>
<text transform="translate(373.27 506) rotate(-90)" font-size="6.35" word-spacing="0.3" text-anchor="end" fill="#333">21. - 31.7.</text>
<text transform="translate(385.33 506) rotate(-90)" font-size="6.35" word-spacing="0.3" text-anchor="end" fill="#333">1. - 10.8</text>
<text transform="translate(397.38 506) rotate(-90)" font-size="6.35" word-spacing="0.3" text-anchor="end" fill="#333">11. - 20.8</text>
<text transform="translate(409.43 506) rotate(-90)" font-size="6.35" word-spacing="0.3" text-anchor="end" fill="#333">21. - 31.8.</text>
<text transform="translate(421.49 506) rotate(-90)" font-size="6.35" word-spacing="0.3" text-anchor="end" fill="#333">1. - 10.9.</text>
<text transform="translate(433.54 506) rotate(-90)" font-size="6.35" word-spacing="0.3" text-anchor="end" fill="#333">11. - 20.9.</text>
<text transform="translate(445.59 506) rotate(-90)" font-size="6.35" word-spacing="0.3" text-anchor="end" fill="#333">21. - 30.9.</text>
<text transform="translate(457.64 506) rotate(-90)" font-size="6.35" word-spacing="0.3" text-anchor="end" fill="#333">1. - 10.10.</text>
<text transform="translate(469.7 506) rotate(-90)" font-size="6.35" word-spacing="0.3" text-anchor="end" fill="#333">11. - 20.10.</text>
<text transform="translate(481.75 506) rotate(-90)" font-size="6.35" word-spacing="0.3" text-anchor="end" fill="#333">21. - 31.10.</text>
<text x="377.05" y="544.4" font-size="6.3" font-weight="bold" text-anchor="middle" fill="#000">date</text>
<text x="476" y="386.3" font-size="7.36" text-anchor="end" fill="#111"><tspan font-weight="bold" font-size="7.41">corn (</tspan><tspan font-style="italic">Zea mays</tspan><tspan font-weight="bold">)</tspan></text>
</g>
</svg>
</body></html>
